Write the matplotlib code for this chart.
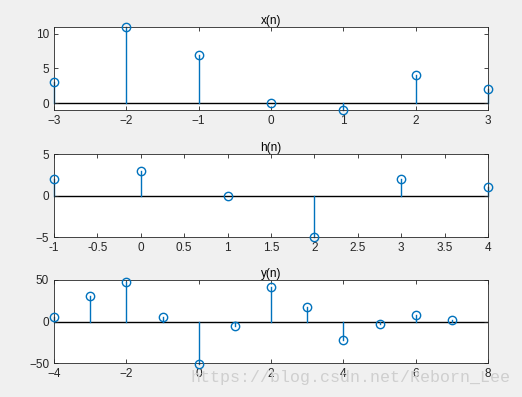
import matplotlib
matplotlib.use("Agg")
import matplotlib.pyplot as plt
import numpy as np

# signal values
nx = [-3, -2, -1, 0, 1, 2, 3]
x = [3, 11, 7, 0, -1, 4, 2]
nh = [-1, 0, 1, 2, 3, 4]
h = [2, 3, 0, -5, 2, 1]
ny = [-4, -3, -2, -1, 0, 1, 2, 3, 4, 5, 6, 7]
y = [6, 31, 47, 6, -51, -5, 41, 18, -22, -3, 8, 2]

plt.rcParams['font.family'] = ['Liberation Sans', 'DejaVu Sans']
blue = '#0072BD'
dark = '#262626'

fig = plt.figure(figsize=(5.22, 3.97), dpi=100, facecolor='#f0f0f0')
W, H = 522, 397
boxes = [(54, 27, 488, 110), (54, 154, 488, 237), (54, 280, 488, 363)]
axs = [fig.add_axes([l / W, 1 - b / H, (r - l) / W, (b - t) / H]) for (l, t, r, b) in boxes]

def stemplot(ax, n, v, title, xlim, ylim, xticks, yticks, xlabels=None):
    ax.axhline(0, color='black', lw=1, zorder=1)
    for xi, vi in zip(n, v):
        ax.plot([xi, xi], [0, vi], color=blue, lw=1, zorder=2, clip_on=False)
    ax.plot(n, v, 'o', mfc='none', mec=blue, ms=6, mew=1, zorder=3, clip_on=False)
    ax.set_xlim(*xlim)
    ax.set_ylim(*ylim)
    ax.set_xticks(xticks)
    if xlabels is not None:
        ax.set_xticklabels(xlabels)
    ax.set_yticks(yticks)
    ax.set_title(title, fontsize=8.5, color='black', pad=2)
    ax.tick_params(direction='in', top=True, right=True, labelsize=8.5,
                   colors=dark, length=3, width=0.6)
    for s in ax.spines.values():
        s.set_color(dark)
        s.set_linewidth(0.6)

stemplot(axs[0], nx, x, 'x(n)', (-3, 3), (-1, 11), nx, [0, 5, 10])
ht = np.arange(-1, 4.01, 0.5)
stemplot(axs[1], nh, h, 'h(n)', (-1, 4), (-5, 5), ht, [-5, 0, 5],
         ['%g' % t for t in ht])
stemplot(axs[2], ny, y, 'y(n)', (-4, 8), (-50, 50), [-4, -2, 0, 2, 4, 6, 8], [-50, 0, 50])

fig.text(510 / W, 1 - 382 / H, 'https://blog.csdn.net/Reborn_Lee', ha='right', va='baseline',
         fontsize=12, color='#cfcfcf', family=['Liberation Mono'])

fig.savefig('out.png', dpi=100, facecolor=fig.get_facecolor())
